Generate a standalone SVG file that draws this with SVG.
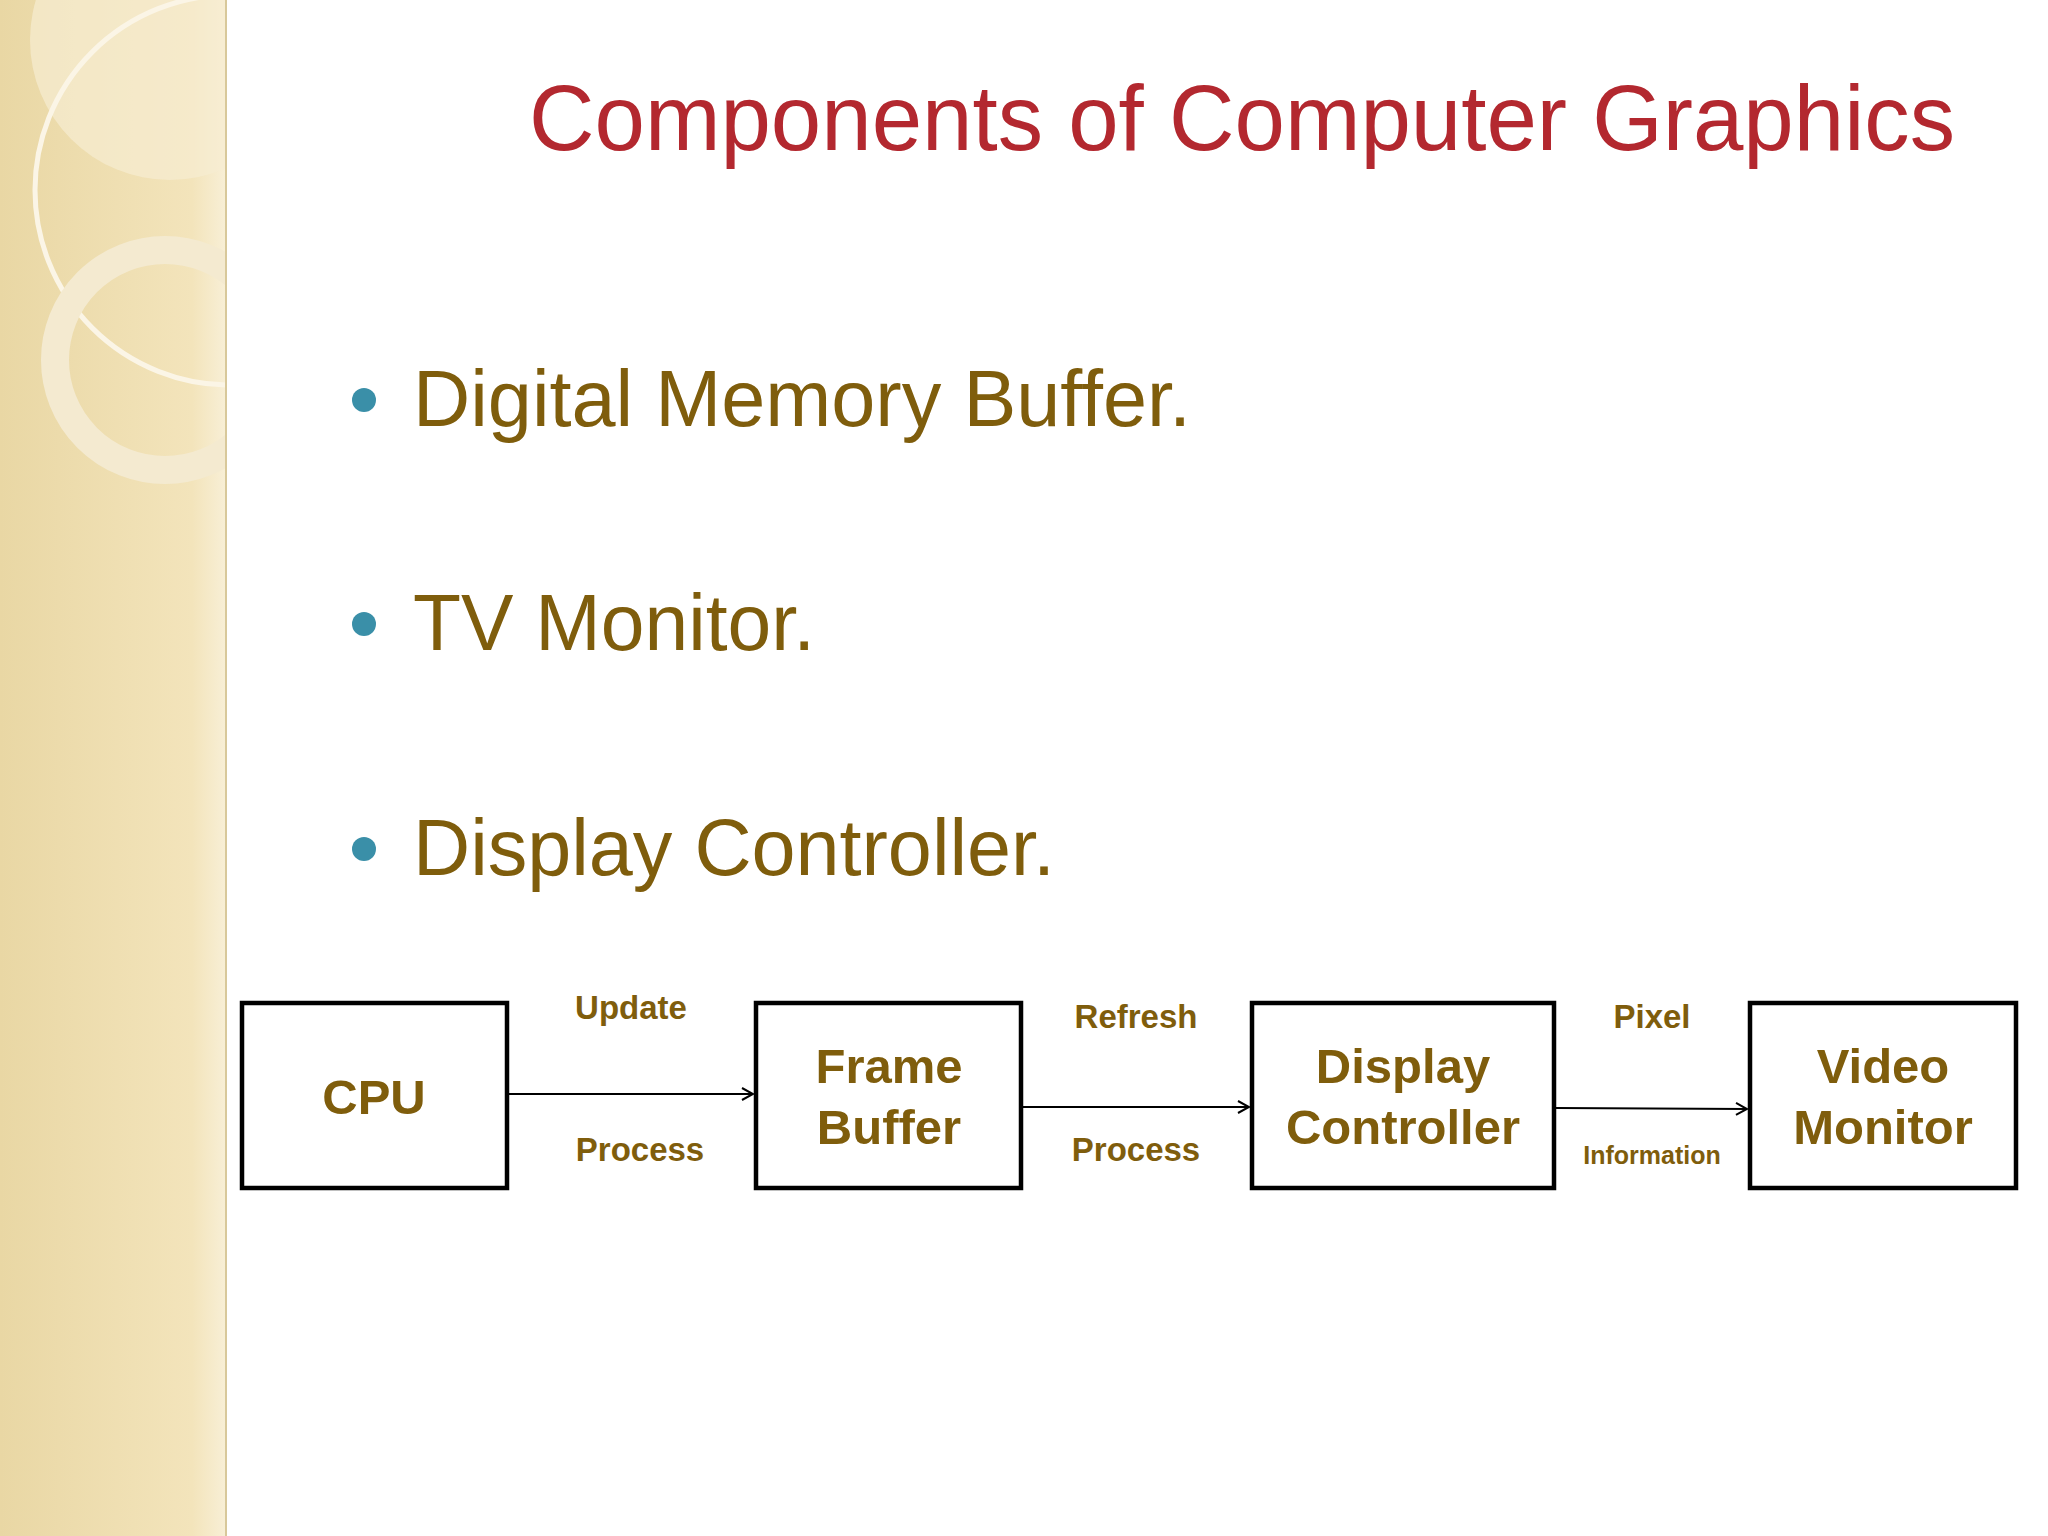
<svg xmlns="http://www.w3.org/2000/svg" width="2048" height="1536" viewBox="0 0 2048 1536">
<defs>
<linearGradient id="pg" x1="0" y1="0" x2="1" y2="0"><stop offset="0" stop-color="#e9d7a4"/><stop offset="0.85" stop-color="#f3e4bb"/><stop offset="1" stop-color="#f8efd6"/></linearGradient>
<marker id="ar" markerWidth="14" markerHeight="14" refX="12" refY="7" orient="auto" markerUnits="userSpaceOnUse"><path d="M1,1 L12,7 L1,13" fill="none" stroke="#000" stroke-width="2"/></marker>
<clipPath id="cp"><rect x="0" y="0" width="226" height="1536"/></clipPath>
</defs>
<style>
.box{fill:#fff;stroke:#000;stroke-width:4.5}
.nt{font-family:"Liberation Sans",Arial,sans-serif;font-weight:bold;font-size:49px;fill:#7f5d0c;text-anchor:middle}
.lb{font-family:"Liberation Sans",Arial,sans-serif;font-weight:bold;font-size:33px;fill:#7f5d0c;text-anchor:middle}
.sm{font-size:25px}
.bl{font-family:"Liberation Sans",Arial,sans-serif;font-size:80px;fill:#7f5d0c}
.cn{stroke:#000;stroke-width:2;fill:none}
</style>
<rect width="2048" height="1536" fill="#fff"/>
<rect x="0" y="0" width="226" height="1536" fill="url(#pg)"/>
<g clip-path="url(#cp)" fill="none">
<circle cx="170" cy="40" r="140" fill="#f6ecd2" opacity="0.7"/>
<circle cx="230" cy="190" r="195" stroke="#fbf5e6" stroke-width="5"/>
<circle cx="165" cy="360" r="110" stroke="#f4ead0" stroke-width="28"/>
</g>
<line x1="226" y1="0" x2="226" y2="1536" stroke="#d8c89a" stroke-width="2"/>
<text x="529" y="150" font-family="'Liberation Sans',Arial,sans-serif" font-size="92" fill="#b3282f" textLength="1426" lengthAdjust="spacingAndGlyphs">Components of Computer Graphics</text>
<g fill="#3a8fa8"><circle cx="364" cy="400" r="12"/><circle cx="364" cy="624" r="12"/><circle cx="364" cy="849" r="12"/></g>
<text class="bl" x="413" y="426" textLength="778" lengthAdjust="spacingAndGlyphs">Digital Memory Buffer.</text>
<text class="bl" x="413" y="650" textLength="402" lengthAdjust="spacingAndGlyphs">TV Monitor.</text>
<text class="bl" x="413" y="875" textLength="642" lengthAdjust="spacingAndGlyphs">Display Controller.</text>
<g id="cpu"><rect class="box" x="242" y="1003" width="265" height="185"/><text class="nt" x="374" y="1114">CPU</text></g>
<g id="frame"><rect class="box" x="756" y="1003" width="265" height="185"/><text class="nt" x="889" y="1083">Frame</text><text class="nt" x="889" y="1144">Buffer</text></g>
<g id="display"><rect class="box" x="1252" y="1003" width="302" height="185"/><text class="nt" x="1403" y="1083">Display</text><text class="nt" x="1403" y="1144">Controller</text></g>
<g id="video"><rect class="box" x="1750" y="1003" width="266" height="185"/><text class="nt" x="1883" y="1083">Video</text><text class="nt" x="1883" y="1144">Monitor</text></g>
<g id="connectors">
<line class="cn" x1="509" y1="1094" x2="753" y2="1094" marker-end="url(#ar)"/>
<line class="cn" x1="1023" y1="1107" x2="1249" y2="1107" marker-end="url(#ar)"/>
<line class="cn" x1="1556" y1="1108" x2="1747" y2="1109" marker-end="url(#ar)"/>
<text class="lb" x="631" y="1019">Update</text>
<text class="lb" x="640" y="1161">Process</text>
<text class="lb" x="1136" y="1028">Refresh</text>
<text class="lb" x="1136" y="1161">Process</text>
<text class="lb" x="1652" y="1028">Pixel</text>
<text class="lb sm" x="1652" y="1164">Information</text>
</g>
</svg>
